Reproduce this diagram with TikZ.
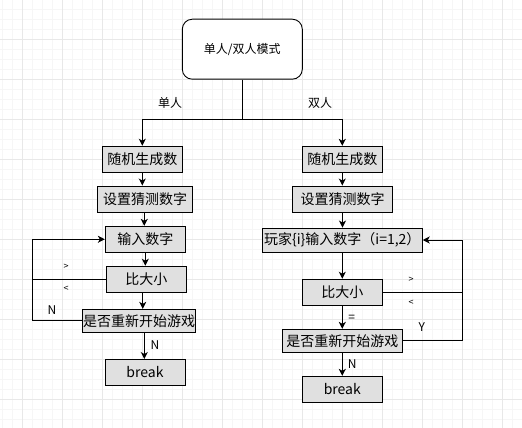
\documentclass[tikz,border=0pt]{standalone}
\usepackage{fontspec}
\newfontfamily\cjk{Noto Sans CJK SC}
\usetikzlibrary{arrows.meta}
\definecolor{boxgray}{RGB}{224,224,224}
\definecolor{gridmajor}{RGB}{232,232,232}
\definecolor{gridminor}{RGB}{246,246,246}
\tikzset{
  box/.style={draw=black, line width=0.9pt, fill=boxgray, inner sep=0pt, minimum height=26pt, font=\cjk\fontsize{14}{16}\selectfont},
  topbox/.style={draw=black, line width=0.9pt, fill=white, rounded corners=10pt, inner sep=0pt, minimum width=120pt, minimum height=60pt, font=\cjk\fontsize{12}{14}\selectfont},
  conn/.style={draw=black, line width=0.9pt},
  arr/.style={conn, -{Stealth[length=7pt,width=7pt,inset=2pt]}},
  lbl/.style={inner sep=0pt, font=\cjk\fontsize{12}{14}\selectfont},
  sym/.style={inner sep=0pt, font=\cjk\fontsize{9}{10}\selectfont},
}
\begin{document}
\begin{tikzpicture}[x=1pt,y=-1pt]
\useasboundingbox (0,0) rectangle (522,428);
\fill[white] (0,0) rectangle (522,428);
% grid
\foreach \x in {2,12,...,522} \draw[gridminor, line width=0.8pt] (\x,0) -- (\x,428);
\foreach \y in {9,19,...,428} \draw[gridminor, line width=0.8pt] (0,\y) -- (522,\y);
\foreach \x in {22,62,...,522} \draw[gridmajor, line width=0.8pt] (\x,0) -- (\x,428);
\foreach \y in {39,79,...,428} \draw[gridmajor, line width=0.8pt] (0,\y) -- (522,\y);

% top
\node[topbox] (T) at (242.3,49.2) {单人/双人模式};
\coordinate (split) at (242.3,119);

% left column
\node[box, minimum width=80pt] (L1) at (142.3,159.2) {随机生成数};
\node[box, minimum width=95pt] (L2) at (145,199) {设置猜测数字};
\node[box, minimum width=80pt] (L3) at (145.3,239.3) {输入数字};
\node[box, minimum width=80pt] (L4) at (146.3,279.2) {比大小};
\node[box, minimum width=113pt, minimum height=23pt] (L5) at (139,320.8) {是否重新开始游戏};
\node[box, minimum width=80pt] (L6) at (145,372.5) {break};
\coordinate (lx) at (32.3,0);

% right column
\node[box, minimum width=80pt] (R1) at (342.3,159.3) {随机生成数};
\node[box, minimum width=100pt] (R2) at (342.5,199) {设置猜测数字};
\node[box, minimum width=160pt, minimum height=24pt] (R3) at (342.3,240) {玩家\{i\}输入数字（i=1,2）};
\node[box, minimum width=80pt] (R4) at (342.3,292.2) {比大小};
\node[box, minimum width=120pt, minimum height=23pt] (R5) at (342.3,340.8) {是否重新开始游戏};
\node[box, minimum width=80pt] (R6) at (342.3,389.3) {break};
\coordinate (rx) at (462.3,0);

% top connectors
\draw[conn] (T.south) -- (split);
\draw[arr] (split) -| (L1.north);
\draw[arr] (split) -| (R1.north);

% left arrows
\draw[arr] (L1.south) -- (L1.south |- L2.north);
\draw[arr] (144.3,0 |- L2.south) -- (144.3,0 |- L3.north);
\draw[arr] (L3.south) -- (L3.south |- L4.north);
\draw[arr] (142.7,0 |- L4.south) -- (142.7,0 |- L5.north);
\draw[arr] (144.3,0 |- L5.south) -- (144.3,0 |- L6.north);
\draw[arr] (L5.west) -- (L5.west -| lx) |- (L3.west);
\draw[conn] (L4.west) -- (L4.west -| lx);

% right arrows
\draw[arr] (R1.south) -- (R1.south |- R2.north);
\draw[arr] (R2.south) -- (R2.south |- R3.north);
\draw[arr] (R3.south) -- (R3.south |- R4.north);
\draw[arr] (R4.south) -- (R4.south |- R5.north);
\draw[arr] (R5.south) -- (R5.south |- R6.north);
\draw[arr] (R5.east) -- (R5.east -| rx) |- (R3.east);
\draw[conn] (R4.east) -- (R4.east -| rx);

% labels
\node[lbl] (lab1) at (170,102.7) {单人};
\node[lbl] (lab2) at (320,102.7) {双人};
\node[sym] (lgt) at (66,267) {>};
\node[sym] (llt) at (66,289) {<};
\node[lbl] (lN1) at (52,310) {N};
\node[lbl] (lN2) at (155,345) {N};
\node[sym] (rgt) at (411,279.5) {>};
\node[sym] (rlt) at (411,302.7) {<};
\node[lbl] (rY) at (421.7,327.3) {Y};
\node[lbl] (req) at (351.7,318.3) {=};
\node[lbl] (rN) at (352.3,364) {N};
\end{tikzpicture}
\end{document}
